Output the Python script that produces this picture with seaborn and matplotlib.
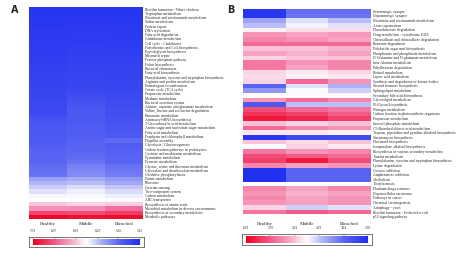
import numpy as np
import pandas as pd
import matplotlib
matplotlib.use('Agg')
import matplotlib.pyplot as plt
import seaborn as sns
from matplotlib.colors import LinearSegmentedColormap

sns.set_theme(style='white')
plt.rcParams['font.family'] = ['Liberation Serif', 'DejaVu Serif']

groups = ['Healthy', 'Middle', 'Bleached']

# ---------------- Panel A ----------------
pathways_A = [
    'Biofilm formation - Vibrio cholerae', 'Tryptophan metabolism',
    'Nicotinate and nicotinamide metabolism', 'Sulfur metabolism', 'Protein export',
    'DNA replication', 'Fatty acid degradation', 'Glutathione metabolism',
    'Cell cycle - Caulobacter', 'Pantothenate and CoA biosynthesis',
    'Peptidoglycan biosynthesis', 'Mismatch repair', 'Pentose phosphate pathway',
    'Folate biosynthesis', 'Bacterial chemotaxis', 'Fatty acid biosynthesis',
    'Phenylalanine, tyrosine and tryptophan biosynthesis',
    'Arginine and proline metabolism', 'Homologous recombination',
    'Citrate cycle (TCA cycle)', 'Propanoate metabolism', 'Methane metabolism',
    'Bacterial secretion system', 'Alanine, aspartate and glutamate metabolism',
    'Valine, leucine and isoleucine degradation', 'Butanoate metabolism',
    'Aminoacyl-tRNA biosynthesis', '2-Oxocarboxylic acid metabolism',
    'Amino sugar and nucleotide sugar metabolism', 'Fatty acid metabolism',
    'Porphyrin and chlorophyll metabolism', 'Flagellar assembly',
    'Glycolysis / Gluconeogenesis', 'Carbon fixation pathways in prokaryotes',
    'Cysteine and methionine metabolism', 'Pyrimidine metabolism',
    'Pyruvate metabolism', 'Glycine, serine and threonine metabolism',
    'Glyoxylate and dicarboxylate metabolism', 'Oxidative phosphorylation',
    'Purine metabolism', 'Ribosome', 'Quorum sensing', 'Two-component system',
    'Carbon metabolism', 'ABC transporters', 'Biosynthesis of amino acids',
    'Microbial metabolism in diverse environments',
    'Biosynthesis of secondary metabolites', 'Metabolic pathways']

healthy_A = [5.66, 5.67, 5.67, 5.68, 5.68, 5.69, 5.69, 5.70, 5.70, 5.71,
             5.71, 5.72, 5.72, 5.73, 5.73, 5.74, 5.74, 5.75, 5.75, 5.76,
             5.77, 5.77, 5.78, 5.78, 5.79, 5.80, 5.84, 5.86, 5.87, 5.88,
             5.88, 5.89, 5.90, 5.93, 5.94, 5.95, 5.96, 5.98, 5.99, 6.00,
             6.18, 6.25, 6.32, 6.38, 6.44, 6.47, 6.62, 6.78, 7.05, 7.28]
middle_A = [5.66, 5.67, 5.68, 5.68, 5.69, 5.70, 5.70, 5.71, 5.71, 5.72,
            5.72, 5.73, 5.73, 5.74, 5.75, 5.75, 5.76, 5.77, 5.77, 5.78,
            5.80, 5.82, 5.84, 5.86, 5.87, 5.88, 5.89, 5.89, 5.90, 5.91,
            5.92, 5.93, 5.94, 5.95, 5.96, 5.98, 6.00, 6.06, 6.08, 6.10,
            6.22, 6.28, 6.36, 6.42, 6.45, 6.47, 6.58, 6.80, 7.02, 7.25]
bleached_A = [5.66, 5.67, 5.67, 5.68, 5.69, 5.69, 5.70, 5.70, 5.71, 5.71,
              5.72, 5.72, 5.73, 5.73, 5.74, 5.74, 5.75, 5.75, 5.76, 5.77,
              5.78, 5.79, 5.80, 5.81, 5.82, 5.83, 5.84, 5.85, 5.86, 5.87,
              5.88, 5.97, 5.90, 5.92, 5.93, 5.94, 5.95, 6.00, 6.02, 6.04,
              6.15, 6.20, 6.30, 6.36, 6.42, 6.45, 6.60, 6.90, 7.08, 7.26]
ticks_A = [7.31, 6.97, 6.63, 6.29, 5.96, 5.62]

# ---------------- Panel B ----------------
pathways_B = [
    'Serotonergic synapse', 'Dopaminergic synapse',
    'Nicotinate and nicotinamide metabolism', 'Axon regeneration',
    'Fluorobenzoate degradation', 'Drug metabolism - cytochrome P450',
    'Chloroalkane and chloroalkene degradation', 'Benzoate degradation',
    'Polyketide sugar unit biosynthesis', 'Phosphonate and phosphinate metabolism',
    'D-Glutamine and D-glutamate metabolism', 'beta-Alanine metabolism',
    'Ethylbenzene degradation', 'Retinol metabolism', 'Lipoic acid metabolism',
    'Synthesis and degradation of ketone bodies', 'Steroid hormone biosynthesis',
    'Sphingolipid metabolism', 'Secondary bile acid biosynthesis',
    'Glycerolipid metabolism', 'N-Glycan biosynthesis', 'Nitrogen metabolism',
    'Carbon fixation in photosynthetic organisms', 'Propanoate metabolism',
    'Inositol phosphate metabolism', 'C5-Branched dibasic acid metabolism',
    'Tropane, piperidine and pyridine alkaloid biosynthesis',
    'Streptomycin biosynthesis', 'Flavonoid biosynthesis',
    'Isoquinoline alkaloid biosynthesis',
    'Biosynthesis of various secondary metabolites', 'Taurine metabolism',
    'Phenylalanine, tyrosine and tryptophan biosynthesis', 'Lysine degradation',
    'Cocaine addiction', 'Amphetamine addiction', 'Alcoholism', 'Toxoplasmosis',
    'Platinum drug resistance', 'Hepatocellular carcinoma', 'Pathways in cancer',
    'Chemical carcinogenesis', 'Autophagy - yeast',
    'Biofilm formation - Escherichia coli', 'p53 signaling pathway']

healthy_B = [3.05, 3.05, 4.10, 4.30, 4.75, 5.30, 5.40, 5.60, 5.00, 5.20,
             4.90, 5.50, 5.50, 4.90, 4.85, 4.90, 3.60, 4.00, 4.70, 5.30,
             3.50, 5.80, 6.00, 6.20, 5.00, 5.60, 4.80, 3.05, 5.00, 4.70,
             5.50, 5.80, 5.90, 5.40, 3.00, 3.00, 3.00, 4.67, 5.40, 5.30,
             5.40, 5.30, 4.90, 5.50, 4.67]
middle_B = [3.70, 3.75, 4.50, 4.60, 4.85, 5.20, 5.30, 5.60, 5.00, 5.10,
            5.00, 5.30, 5.20, 4.80, 4.75, 5.60, 4.50, 4.65, 4.70, 5.60,
            4.30, 5.60, 5.90, 6.10, 4.90, 5.40, 4.80, 3.30, 4.85, 4.90,
            5.30, 5.70, 6.20, 5.20, 3.60, 3.60, 3.60, 4.67, 5.20, 5.10,
            5.20, 5.20, 4.40, 5.70, 4.67]
bleached_B = [3.70, 3.75, 4.30, 4.50, 4.85, 5.25, 5.20, 5.60, 5.10, 5.20,
              5.00, 5.40, 5.40, 4.90, 4.80, 5.30, 4.20, 4.40, 4.70, 5.40,
              4.30, 5.50, 5.70, 5.90, 5.00, 5.30, 4.75, 3.30, 5.00, 4.80,
              5.40, 5.60, 5.80, 5.30, 3.60, 3.60, 3.60, 4.67, 5.40, 5.20,
              5.30, 5.30, 4.50, 5.60, 4.67]
ticks_B = [6.39, 5.70, 5.01, 4.33, 3.64, 2.95]

dfA = pd.DataFrame({'Healthy': healthy_A, 'Middle': middle_A, 'Bleached': bleached_A},
                   index=pathways_A)[groups]
dfB = pd.DataFrame({'Healthy': healthy_B, 'Middle': middle_B, 'Bleached': bleached_B},
                   index=pathways_B)[groups]

cmap = LinearSegmentedColormap.from_list('bwr_custom', [
    (0.0, '#1f2ef0'), (0.2, '#5a66f2'), (0.38, '#b4b8f6'), (0.5, '#ffffff'),
    (0.62, '#f7b3cf'), (0.8, '#f25a8a'), (1.0, '#f0001c')])

W, H = 474, 257
fig = plt.figure(figsize=(W / 100, H / 100), dpi=100)


def px(x0, y0, x1, y1):
    return [x0 / W, 1 - y1 / H, (x1 - x0) / W, (y1 - y0) / H]


def panel(df, hm_box, frame_box, cb_box, ticks, label, label_xy):
    ax = fig.add_axes(px(*hm_box))
    vmin, vmax = min(ticks), max(ticks)
    sns.heatmap(df, ax=ax, cmap=cmap, vmin=vmin, vmax=vmax, cbar=False,
                linewidths=0)
    ax.yaxis.tick_right()
    ax.set_yticks(np.arange(len(df)) + 0.5)
    ax.set_yticklabels(df.index, rotation=0, fontsize=2.7)
    ax.tick_params(axis='y', length=0, pad=1.5)
    ax.set_xticklabels(groups, rotation=0, fontsize=3.6)
    ax.tick_params(axis='x', length=0, pad=2.5)
    ax.set_xlabel('')
    ax.set_ylabel('')

    frame = fig.add_axes(px(*frame_box))
    frame.set_xticks([])
    frame.set_yticks([])
    for s in frame.spines.values():
        s.set_visible(True)
        s.set_color('#444444')
        s.set_linewidth(0.5)
    frame.patch.set_alpha(0)

    cax = fig.add_axes(px(*cb_box))
    cb = fig.colorbar(ax.collections[0], cax=cax, orientation='horizontal')
    cb.outline.set_visible(False)
    cax.invert_xaxis()
    cax.xaxis.set_ticks_position('top')
    cb.set_ticks(ticks)
    cb.set_ticklabels([f'{t:.2f}' for t in ticks])
    cax.tick_params(axis='x', length=1.0, width=0.3, pad=3.5, labelsize=2.6,
                    top=True, bottom=False)

    fig.text(label_xy[0] / W, 1 - label_xy[1] / H, label, fontsize=7,
             fontweight='bold', family='DejaVu Sans', ha='center', va='center')


panel(dfA, (29, 7, 143, 219), (29, 237, 144, 247), (33, 239, 140, 245),
      ticks_A, 'A', (15, 10))
panel(dfB, (243, 9, 371, 219), (242, 234, 372, 245), (246, 236, 368, 243),
      ticks_B, 'B', (231, 10))

fig.savefig('out.png', dpi=100)
